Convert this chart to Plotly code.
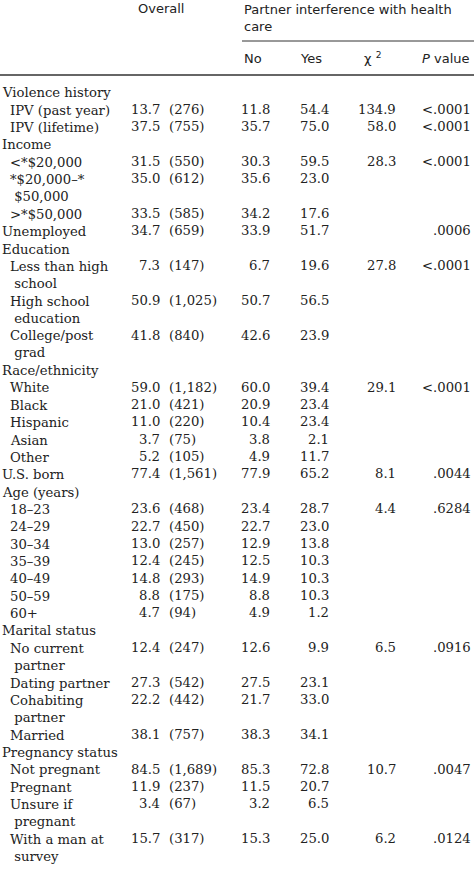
import plotly.graph_objects as go

labels = ["Violence history", "IPV (past year)", "IPV (lifetime)", "Income", "<*$20,000",
          "*$20,000–*<br> $50,000", ">*$50,000", "Unemployed", "Education",
          "Less than high<br> school", "High school<br> education", "College/post<br> grad",
          "Race/ethnicity", "White", "Black", "Hispanic", "Asian", "Other", "U.S. born",
          "Age (years)", "18–23", "24–29", "30–34", "35–39", "40–49", "50–59", "60+",
          "Marital status", "No current<br> partner", "Dating partner", "Cohabiting<br> partner",
          "Married", "Pregnancy status", "Not pregnant", "Pregnant", "Unsure if<br> pregnant",
          "With a man at<br> survey"]
indent = [0,1,1,0,1,1,1,0,0,1,1,1,0,1,1,1,1,1,0,0,1,1,1,1,1,1,1,0,1,1,1,1,0,1,1,1,1]
overall_pct = ["","13.7","37.5","","31.5","35.0","33.5","34.7","","7.3","50.9","41.8","",
               "59.0","21.0","11.0","3.7","5.2","77.4","","23.6","22.7","13.0","12.4","14.8",
               "8.8","4.7","","12.4","27.3","22.2","38.1","","84.5","11.9","3.4","15.7"]
overall_n = ["","(276)","(755)","","(550)","(612)","(585)","(659)","","(147)","(1,025)","(840)","",
             "(1,182)","(421)","(220)","(75)","(105)","(1,561)","","(468)","(450)","(257)","(245)",
             "(293)","(175)","(94)","","(247)","(542)","(442)","(757)","","(1,689)","(237)","(67)","(317)"]
no_vals = ["","11.8","35.7","","30.3","35.6","34.2","33.9","","6.7","50.7","42.6","",
           "60.0","20.9","10.4","3.8","4.9","77.9","","23.4","22.7","12.9","12.5","14.9",
           "8.8","4.9","","12.6","27.5","21.7","38.3","","85.3","11.5","3.2","15.3"]
yes_vals = ["","54.4","75.0","","59.5","23.0","17.6","51.7","","19.6","56.5","23.9","",
            "39.4","23.4","23.4","2.1","11.7","65.2","","28.7","23.0","13.8","10.3","10.3",
            "10.3","1.2","","9.9","23.1","33.0","34.1","","72.8","20.7","6.5","25.0"]
chi_vals = ["","134.9","58.0","","28.3","","","","","27.8","","","","29.1","","","","","8.1","",
            "4.4","","","","","","","","6.5","","","","","10.7","","","6.2"]
p_vals = ["","<.0001","<.0001","","<.0001","","",".0006","","<.0001","","","","<.0001","","","","",
          ".0044","",".6284","","","","","","","",".0916","","","","",".0047","","",".0124"]
headers = ["Overall", "Partner interference with health<br>care", "No", "Yes", "χ <sup>2</sup>", "<i>P</i> value"]

LH = 17.36
Y0 = 92
ser = dict(family="DejaVu Serif, serif", size=13.2, color="#222")
sans = dict(family="DejaVu Sans, sans-serif", size=13, color="#222")

fig = go.Figure()
ann = []
line = 0
for i, lab in enumerate(labels):
    y = Y0 + line * LH
    ann.append(dict(x=0 + 8 * indent[i], y=y - LH / 2, text=lab, xanchor="left", yanchor="top",
                    align="left", font=ser))
    cols = [(overall_pct[i], 162, "right"), (overall_n[i], 167, "left"), (no_vals[i], 272, "right"),
            (yes_vals[i], 331, "right"), (chi_vals[i], 398, "right"), (p_vals[i], 473, "right")]
    for t, x, a in cols:
        if t:
            ann.append(dict(x=x, y=y, text=t, xanchor=a, yanchor="middle", font=ser))
    line += lab.count("<br>") + 1

ann.append(dict(x=136, y=8, text=headers[0], xanchor="left", yanchor="middle", font=sans))
ann.append(dict(x=242, y=0, text=headers[1], xanchor="left", yanchor="top", align="left", font=sans))
for t, x in zip(headers[2:], [242, 298, 362, 420]):
    ann.append(dict(x=x, y=58, text=t, xanchor="left", yanchor="middle", font=sans))
for a in ann:
    a.update(xref="x", yref="y", showarrow=False)

fig.update_layout(
    width=474, height=883, margin=dict(l=0, r=0, t=0, b=0),
    paper_bgcolor="white", plot_bgcolor="white", annotations=ann,
    xaxis=dict(range=[0, 474], visible=False, fixedrange=True),
    yaxis=dict(range=[883, 0], visible=False, fixedrange=True),
    shapes=[dict(type="line", x0=242, x1=474, y0=41, y1=41, line=dict(color="#333", width=1)),
            dict(type="line", x0=0, x1=474, y0=75, y1=75, line=dict(color="#333", width=1.5))],
    showlegend=False,
)
fig.write_html("out.html", config={"displayModeBar": False},
               post_script="document.body.style.margin='0';document.body.style.overflow='hidden';")
